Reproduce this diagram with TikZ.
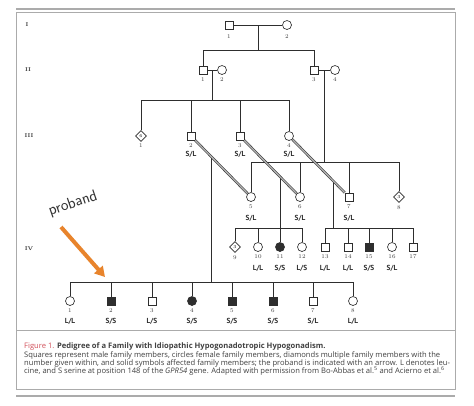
\documentclass[tikz,border=0pt]{standalone}
\usepackage{fontspec}
\newfontfamily\capfont{Open Sans}
\newfontfamily\genofont{PT Sans}
\usetikzlibrary{shapes.geometric,arrows.meta,calc}
\definecolor{figred}{HTML}{D2505A}
\definecolor{arrorange}{HTML}{E8842C}
\definecolor{framegray}{HTML}{ABABAB}
\definecolor{ink}{HTML}{2E2E2E}
\newcommand\pers[7]{%
  \node[#2] (#1) at (#3,#4) {};
  \node[num] (#1n) at (#3,#4+10) {#5};
  \node[geno] (#1g) at (#3,#4+#7) {#6};}
\begin{document}
\begin{tikzpicture}[x=1pt,y=-1pt,
  pl/.style={line width=0.65pt, draw=ink},
  male/.style={rectangle, draw=ink, line width=0.65pt, minimum size=8pt, inner sep=0pt},
  fem/.style={circle, draw=ink, line width=0.65pt, minimum size=9pt, inner sep=0pt},
  mult/.style={diamond, draw=ink, line width=0.65pt, minimum size=11pt, inner sep=0pt, font=\fontsize{4.5}{4.5}\selectfont},
  aff/.style={fill=ink},
  num/.style={font=\fontsize{5.8}{5.8}\selectfont, inner sep=0pt, text=black!75},
  geno/.style={font=\genofont\bfseries\fontsize{7.3}{7.3}\selectfont, inner sep=0pt, text=ink},
  genlab/.style={font=\bfseries\fontsize{5.5}{5.5}\selectfont, inner sep=0pt, text=black!80},
  cons/.style={draw=ink, line width=0.55pt, double=black!30, double distance=1.3pt},
  captext/.style={font=\capfont\fontsize{7.6}{7.6}\selectfont, inner sep=0pt, anchor=base west, text=black!75},
  framel/.style={draw=framegray, line width=0.8pt}
]
\useasboundingbox[fill=white] (0,0) rectangle (474,405);

% frame
\draw[framel, line width=1.4pt] (16,9) -- (455,9);
\draw[framel] (16,12) rectangle (455,389);
\draw[framel] (16,330) -- (455,330);
\draw[framel, line width=1.4pt] (16,396) -- (455,396);

% generation labels
\node[genlab] (gI) at (27,25) {I};
\node[genlab] (gII) at (28,70) {II};
\node[genlab] (gIII) at (29,136) {III};
\node[genlab] (gIV) at (29,249) {IV};

% generation I
\node[male] (I1) at (229,25) {};
\node[num] (I1n) at (229,37) {1};
\node[fem] (I2) at (287,25) {};
\node[num] (I2n) at (287,37) {2};

% generation II
\node[male] (II1) at (203,70) {};
\node[num] (II1n) at (203,80) {1};
\node[fem] (II2) at (222,70) {};
\node[num] (II2n) at (222,80) {2};
\node[male] (II3) at (314,70) {};
\node[num] (II3n) at (314,80) {3};
\node[fem] (II4) at (335,70) {};
\node[num] (II4n) at (335,80) {4};

% generation III
\node[mult] (III1) at (141,136) {6};
\node[num] (III1n) at (141,146) {1};
\pers{III2}{male}{191}{136}{2}{S/L}{18}
\pers{III3}{male}{240}{136}{3}{S/L}{18}
\pers{III4}{fem}{289}{136}{4}{S/L}{18}
\pers{III5}{fem}{251}{197}{5}{S/L}{21}
\pers{III6}{fem}{300}{197}{6}{S/L}{21}
\pers{III7}{male}{349}{197}{7}{S/L}{21}
\node[mult] (III8) at (399,197) {3};
\node[num] (III8n) at (399,208) {8};

% generation IV, upper
\node[mult] (IV9) at (235,247) {3};
\node[num] (IV9n) at (235,258) {9};
\pers{IV10}{fem}{258}{247}{10}{L/L}{21}
\pers{IV11}{fem,aff}{280}{247}{11}{S/S}{21}
\pers{IV12}{fem}{302}{247}{12}{L/S}{21}
\pers{IV13}{male}{325}{247}{13}{L/L}{21}
\pers{IV14}{male}{348}{247}{14}{L/L}{21}
\pers{IV15}{male,aff}{369}{247}{15}{S/S}{21}
\pers{IV16}{fem}{392}{247}{16}{S/L}{21}
\pers{IV17}{male}{413}{247}{17}{}{21}

% generation IV, lower
\pers{IVa1}{fem}{70}{301}{1}{L/L}{20}
\pers{IVa2}{male,aff}{111}{301}{2}{S/S}{20}
\pers{IVa3}{male}{152}{301}{3}{L/S}{20}
\pers{IVa4}{fem,aff}{192}{301}{4}{S/S}{20}
\pers{IVa5}{male,aff}{232}{301}{5}{S/S}{20}
\pers{IVa6}{male,aff}{273}{301}{6}{S/S}{20}
\pers{IVa7}{male}{313}{301}{7}{S/L}{20}
\pers{IVa8}{fem}{353}{301}{8}{L/L}{20}

% I -> II
\draw[pl] (I1) -- (I2);
\coordinate (m1) at ($(I1)!0.5!(I2)$);
\coordinate (s1L) at (203,50);
\coordinate (s1R) at (314,50);
\draw[pl] (m1) -- (m1 |- s1L);
\draw[pl] (II1) -- (s1L) -- (s1R) -- (II3);

% II-1/2 -> III
\draw[pl] (II1) -- (II2);
\coordinate (m2) at ($(II1)!0.5!(II2)$);
\coordinate (s2L) at (141,100);
\coordinate (s2R) at (289,100);
\draw[pl] (m2) -- (m2 |- s2L);
\draw[pl] (III1) -- (s2L) -- (s2R) -- (III4);
\draw[pl] (III2 |- s2L) -- (III2);
\draw[pl] (III3 |- s2L) -- (III3);

% II-3/4 -> III
\draw[pl] (II3) -- (II4);
\coordinate (m3) at ($(II3)!0.5!(II4)$);
\coordinate (s3L) at (251,162);
\coordinate (s3R) at (399,162);
\draw[pl] (m3) -- (m3 |- s3L);
\draw[pl] (III5) -- (s3L) -- (s3R) -- (III8);
\draw[pl] (III6 |- s3L) -- (III6);
\draw[pl] (III7 |- s3L) -- (III7);

% III-2/5 -> IV lower
\coordinate (c25) at ($(III2)!0.333!(III5)$);
\coordinate (s4L) at (70,282);
\coordinate (s4R) at (353,282);
\draw[pl] (c25) -- (c25 |- s4L);
\draw[pl] (IVa1) -- (s4L) -- (s4R) -- (IVa8);
\foreach \k in {2,...,7}{\draw[pl] (IVa\k |- s4L) -- (IVa\k);}

% III-3/6 -> IV 9-12
\coordinate (c36) at ($(III3)!0.667!(III6)$);
\coordinate (s5L) at (235,228);
\coordinate (s5R) at (302,228);
\draw[pl] (c36) -- (c36 |- s5L);
\draw[pl] (IV9) -- (s5L) -- (s5R) -- (IV12);
\draw[pl] (IV10 |- s5L) -- (IV10);
\draw[pl] (IV11 |- s5L) -- (IV11);

% III-4/7 -> IV 13-17
\coordinate (c47) at ($(III4)!0.733!(III7)$);
\coordinate (s6L) at (325,228);
\coordinate (s6R) at (413,228);
\draw[pl] (c47) -- (c47 |- s6L);
\draw[pl] (IV13) -- (s6L) -- (s6R) -- (IV17);
\foreach \k in {14,15,16}{\draw[pl] (IV\k |- s6L) -- (IV\k);}

% consanguineous unions
\draw[cons] (III2) -- (III5);
\draw[cons] (III3) -- (III6);
\draw[cons] (III4) -- (III7);

% proband
\node[font=\sffamily\fontsize{16}{16}\selectfont, rotate=19, text=black!80, inner sep=0pt] (prob) at (73,204) {proband};
\coordinate (arrS) at (61,227);
\coordinate (arrE) at (105,277);
\draw[arrorange, line width=4pt, -{Triangle[length=10pt,width=11pt]}] (arrS) -- (arrE);

% caption
\node[captext] (c0) at (24,348) {{\color{figred}Figure 1.} \textbf{Pedigree of a Family with Idiopathic Hypogonadotropic Hypogonadism.}};
\node[captext] (c1) at (24,357.5) {Squares represent male family members, circles female family members, diamonds multiple family members with the};
\node[captext] (c2) at (24,365.5) {number given within, and solid symbols affected family members; the proband is indicated with an arrow. L denotes leu-};
\node[captext] (c3) at (24,373.5) {cine, and S serine at position 148 of the \textit{GPR54} gene. Adapted with permission from Bo-Abbas et al.\textsuperscript{5} and Acierno et al.\textsuperscript{6}};
\end{tikzpicture}
\end{document}
